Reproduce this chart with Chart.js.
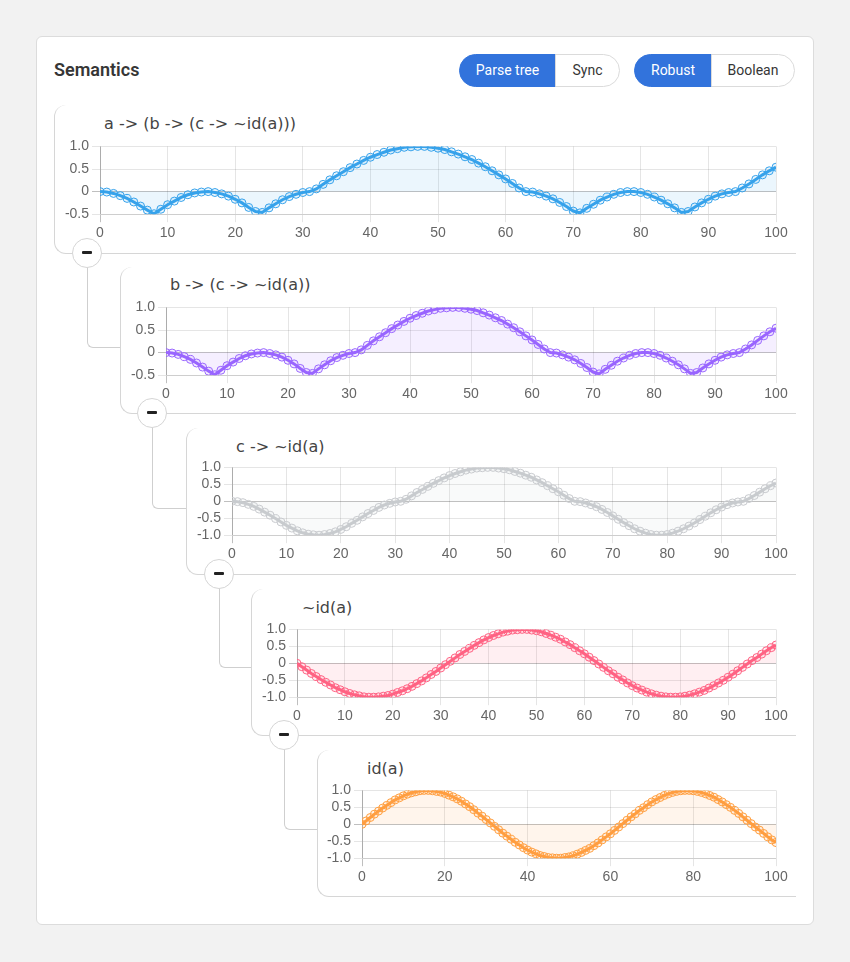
<!DOCTYPE html>
<html><head><meta charset="utf-8">
<script src="https://cdn.jsdelivr.net/npm/chart.js@4.4.1/dist/chart.umd.min.js"></script>
<style>
html,body{margin:0;padding:0}
body{width:850px;height:962px;background:#f2f2f2;position:relative;overflow:hidden;font-family:Roboto,"Noto Sans",sans-serif;}
.card{position:absolute;left:36px;top:36px;width:778px;height:889px;box-sizing:border-box;background:#fff;border:1px solid #dcdcdc;border-radius:6px}
.h{position:absolute;left:54px;top:58px;font-size:18px;font-weight:600;color:#363636;line-height:24px}
.btn{position:absolute;top:54px;height:33px;box-sizing:border-box;font-size:14px;line-height:31px;text-align:center;border:1px solid #dbdbdb;background:#fff;color:#363636}
.btn.on{background:#3273dc;border-color:#3273dc;color:#fff}
.l{border-radius:17px 0 0 17px}
.r{border-radius:0 17px 17px 0}
.node{position:absolute;box-sizing:border-box;border-left:1px solid #d6d6d6;border-bottom:1px solid #d6d6d6;border-radius:12px 0 0 12px}
.ttl{position:absolute;font-family:"DejaVu Sans";font-size:16px;color:#444;line-height:20px;white-space:nowrap}
.tog{position:absolute;width:30px;height:30px;box-sizing:border-box;border:1px solid #d5d5d5;border-radius:50%;background:#fff}
.tog::after{content:"";position:absolute;left:9px;top:12px;width:10px;height:3px;background:#222;border-radius:1px}
.conn{position:absolute;box-sizing:border-box;border-left:1px solid #cfcfcf;border-bottom:1px solid #cfcfcf;border-bottom-left-radius:6px}
.cw{position:absolute}
</style></head>
<body>
<div class="card"></div>
<div class="h">Semantics</div>
<div class="btn on l" style="left:459px;width:97px">Parse tree</div>
<div class="btn r" style="left:555px;width:65px">Sync</div>
<div class="btn on l" style="left:634px;width:78px">Robust</div>
<div class="btn r" style="left:711px;width:84px">Boolean</div>

<div class="conn" style="left:87px;top:267px;width:33px;height:81px"></div>
<div class="conn" style="left:152px;top:427px;width:34px;height:82px"></div>
<div class="conn" style="left:219px;top:588px;width:32px;height:80px"></div>
<div class="conn" style="left:284px;top:749px;width:33px;height:81px"></div>

<div class="node" style="left:54px;top:105px;width:742px;height:149px"></div>
<div class="node" style="left:120px;top:267px;width:676px;height:147px"></div>
<div class="node" style="left:186px;top:428px;width:610px;height:147px"></div>
<div class="node" style="left:251px;top:589px;width:545px;height:147px"></div>
<div class="node" style="left:317px;top:750px;width:479px;height:147px"></div>

<div class="ttl" style="left:104px;top:114px">a -&gt; (b -&gt; (c -&gt; ~id(a)))</div>
<div class="ttl" style="left:170px;top:275px">b -&gt; (c -&gt; ~id(a))</div>
<div class="ttl" style="left:236px;top:437px">c -&gt; ~id(a)</div>
<div class="ttl" style="left:302px;top:598px">~id(a)</div>
<div class="ttl" style="left:367px;top:759px">id(a)</div>

<div class="cw" style="left:56px;top:135px;width:740px;height:110px"><canvas id="c1"></canvas></div>
<div class="cw" style="left:122px;top:296px;width:674px;height:110px"><canvas id="c2"></canvas></div>
<div class="cw" style="left:188px;top:456px;width:608px;height:110px"><canvas id="c3"></canvas></div>
<div class="cw" style="left:253px;top:618px;width:543px;height:110px"><canvas id="c4"></canvas></div>
<div class="cw" style="left:319px;top:779px;width:477px;height:110px"><canvas id="c5"></canvas></div>

<div class="tog" style="left:72px;top:238px"></div>
<div class="tog" style="left:137px;top:398px"></div>
<div class="tog" style="left:204px;top:559px"></div>
<div class="tog" style="left:269px;top:720px"></div>

<script>
const xs = [0,1,2,3,4,5,6,7,8,9,10,11,12,13,14,15,16,17,18,19,20,21,22,23,24,25,26,27,28,29,30,31,32,33,34,35,36,37,38,39,40,41,42,43,44,45,46,47,48,49,50,51,52,53,54,55,56,57,58,59,60,61,62,63,64,65,66,67,68,69,70,71,72,73,74,75,76,77,78,79,80,81,82,83,84,85,86,87,88,89,90,91,92,93,94,95,96,97,98,99,100];

const aImp = [0,-0.01,-0.04,-0.09,-0.15,-0.23,-0.32,-0.41,-0.49,-0.39,
 -0.29,-0.21,-0.13,-0.07,-0.03,-0.01,0.00,-0.02,-0.05,-0.10,
 -0.17,-0.25,-0.35,-0.44,-0.46,-0.36,-0.27,-0.18,-0.11,-0.06,
 -0.02,0.00,0.06,0.16,0.26,0.35,0.44,0.53,0.61,0.69,
 0.76,0.82,0.87,0.92,0.95,0.98,0.99,1.00,1.00,0.98,
 0.96,0.93,0.88,0.83,0.77,0.71,0.63,0.55,0.46,0.37,
 0.28,0.18,0.08,0.00,-0.01,-0.05,-0.10,-0.16,-0.24,-0.33,
 -0.43,-0.47,-0.37,-0.28,-0.19,-0.12,-0.06,-0.02,0.00,0.00,
 -0.02,-0.06,-0.12,-0.19,-0.27,-0.36,-0.46,-0.44,-0.34,-0.25,
 -0.17,-0.10,-0.05,-0.02,0.00,0.08,0.17,0.27,0.37,0.46,
 0.54];

const bImp = [0,-0.01,-0.04,-0.09,-0.15,-0.23,-0.32,-0.41,-0.49,-0.39,
 -0.29,-0.21,-0.13,-0.07,-0.03,-0.01,0.00,-0.02,-0.05,-0.10,
 -0.17,-0.25,-0.35,-0.44,-0.46,-0.36,-0.27,-0.18,-0.11,-0.06,
 -0.02,0.00,0.06,0.16,0.26,0.35,0.44,0.53,0.61,0.69,
 0.76,0.82,0.87,0.92,0.95,0.98,0.99,1.00,1.00,0.98,
 0.96,0.93,0.88,0.83,0.77,0.71,0.63,0.55,0.46,0.37,
 0.28,0.18,0.08,0.00,-0.01,-0.05,-0.10,-0.16,-0.24,-0.33,
 -0.43,-0.47,-0.37,-0.28,-0.19,-0.12,-0.06,-0.02,0.00,0.00,
 -0.02,-0.06,-0.12,-0.19,-0.27,-0.36,-0.46,-0.44,-0.34,-0.25,
 -0.17,-0.10,-0.05,-0.02,0.00,0.08,0.17,0.27,0.37,0.46,
 0.54];

const cImp = [0,-0.01,-0.04,-0.09,-0.15,-0.23,-0.32,-0.41,-0.51,-0.61,
 -0.71,-0.79,-0.87,-0.93,-0.97,-0.99,-1.00,-0.98,-0.95,-0.90,
 -0.83,-0.75,-0.65,-0.56,-0.46,-0.36,-0.27,-0.18,-0.11,-0.06,
 -0.02,0.00,0.06,0.16,0.26,0.35,0.44,0.53,0.61,0.69,
 0.76,0.82,0.87,0.92,0.95,0.98,0.99,1.00,1.00,0.98,
 0.96,0.93,0.88,0.83,0.77,0.71,0.63,0.55,0.46,0.37,
 0.28,0.18,0.08,0.00,-0.01,-0.05,-0.10,-0.16,-0.24,-0.33,
 -0.43,-0.53,-0.63,-0.72,-0.81,-0.88,-0.94,-0.98,-1.00,-1.00,
 -0.98,-0.94,-0.88,-0.81,-0.73,-0.64,-0.54,-0.44,-0.34,-0.25,
 -0.17,-0.10,-0.05,-0.02,0.00,0.08,0.17,0.27,0.37,0.46,
 0.54];

const notIdA = [0,-0.10,-0.20,-0.30,-0.39,-0.48,-0.56,-0.64,-0.72,-0.78,
 -0.84,-0.89,-0.93,-0.96,-0.99,-1.00,-1.00,-0.99,-0.97,-0.95,
 -0.91,-0.86,-0.81,-0.75,-0.68,-0.60,-0.52,-0.43,-0.33,-0.24,
 -0.14,-0.04,0.06,0.16,0.26,0.35,0.44,0.53,0.61,0.69,
 0.76,0.82,0.87,0.92,0.95,0.98,0.99,1.00,1.00,0.98,
 0.96,0.93,0.88,0.83,0.77,0.71,0.63,0.55,0.46,0.37,
 0.28,0.18,0.08,-0.02,-0.12,-0.22,-0.31,-0.41,-0.49,-0.58,
 -0.66,-0.73,-0.79,-0.85,-0.90,-0.94,-0.97,-0.99,-1.00,-1.00,
 -0.99,-0.97,-0.94,-0.90,-0.85,-0.80,-0.73,-0.66,-0.58,-0.50,
 -0.41,-0.32,-0.22,-0.12,-0.02,0.08,0.17,0.27,0.37,0.46,
 0.54];

const idA = [0,0.10,0.20,0.30,0.39,0.48,0.56,0.64,0.72,0.78,
 0.84,0.89,0.93,0.96,0.99,1.00,1.00,0.99,0.97,0.95,
 0.91,0.86,0.81,0.75,0.68,0.60,0.52,0.43,0.33,0.24,
 0.14,0.04,-0.06,-0.16,-0.26,-0.35,-0.44,-0.53,-0.61,-0.69,
 -0.76,-0.82,-0.87,-0.92,-0.95,-0.98,-0.99,-1.00,-1.00,-0.98,
 -0.96,-0.93,-0.88,-0.83,-0.77,-0.71,-0.63,-0.55,-0.46,-0.37,
 -0.28,-0.18,-0.08,0.02,0.12,0.22,0.31,0.41,0.49,0.58,
 0.66,0.73,0.79,0.85,0.90,0.94,0.97,0.99,1.00,1.00,
 0.99,0.97,0.94,0.90,0.85,0.80,0.73,0.66,0.58,0.50,
 0.41,0.32,0.22,0.12,0.02,-0.08,-0.17,-0.27,-0.37,-0.46,
 -0.54];

const yTicksShort = [-0.5, 0, 0.5, 1.0];
const yTicksFull = [-1.0, -0.5, 0, 0.5, 1.0];
const xTicks10 = [0, 10, 20, 30, 40, 50, 60, 70, 80, 90, 100];
const xTicks20 = [0, 20, 40, 60, 80, 100];

function gridColor(ctx){
  return (ctx.tick && ctx.tick.value === 0) ? 'rgba(0,0,0,0.25)' : 'rgba(0,0,0,0.1)';
}

function make(id, vals, rgb, yTicks, xTicks, yw){
  const col = 'rgb(' + rgb + ')';
  const bg = 'rgba(' + rgb + ',0.1)';
  new Chart(document.getElementById(id), {
    type: 'line',
    data: {
      datasets: [{
        data: vals.map((v, i) => ({x: xs[i], y: v})),
        borderColor: col,
        backgroundColor: bg,
        pointBackgroundColor: bg,
        pointBorderColor: col,
        pointBorderWidth: 1,
        pointRadius: 4,
        borderWidth: 3,
        fill: 'origin',
        tension: 0
      }]
    },
    options: {
      responsive: true,
      maintainAspectRatio: false,
      animation: false,
      layout: {padding: {top: 10, right: 20, left: 0, bottom: 0}},
      plugins: {legend: {display: false}, tooltip: {enabled: false}},
      scales: {
        x: {
          type: 'linear', min: xTicks[0], max: xTicks[xTicks.length - 1],
          ticks: {color: '#666', font: {size: 14}},
          grid: {color: gridColor},
          afterBuildTicks: s => { s.ticks = xTicks.map(v => ({value: v})); }
        },
        y: {
          min: yTicks[0], max: yTicks[yTicks.length - 1],
          ticks: {color: '#666', font: {size: 14}, autoSkip: false},
          grid: {color: gridColor},
          afterBuildTicks: s => { s.ticks = yTicks.map(v => ({value: v})); },
          afterFit: s => { s.width = yw; }
        }
      }
    }
  });
}

make('c1', aImp, '54,162,235', yTicksShort, xTicks10, 44);
make('c2', bImp, '153,102,255', yTicksShort, xTicks10, 44);
make('c3', cImp, '201,203,207', yTicksFull, xTicks10, 44);
make('c4', notIdA, '255,99,132', yTicksFull, xTicks10, 44);
make('c5', idA, '255,159,64', yTicksFull, xTicks20, 43);
</script>
</body></html>
